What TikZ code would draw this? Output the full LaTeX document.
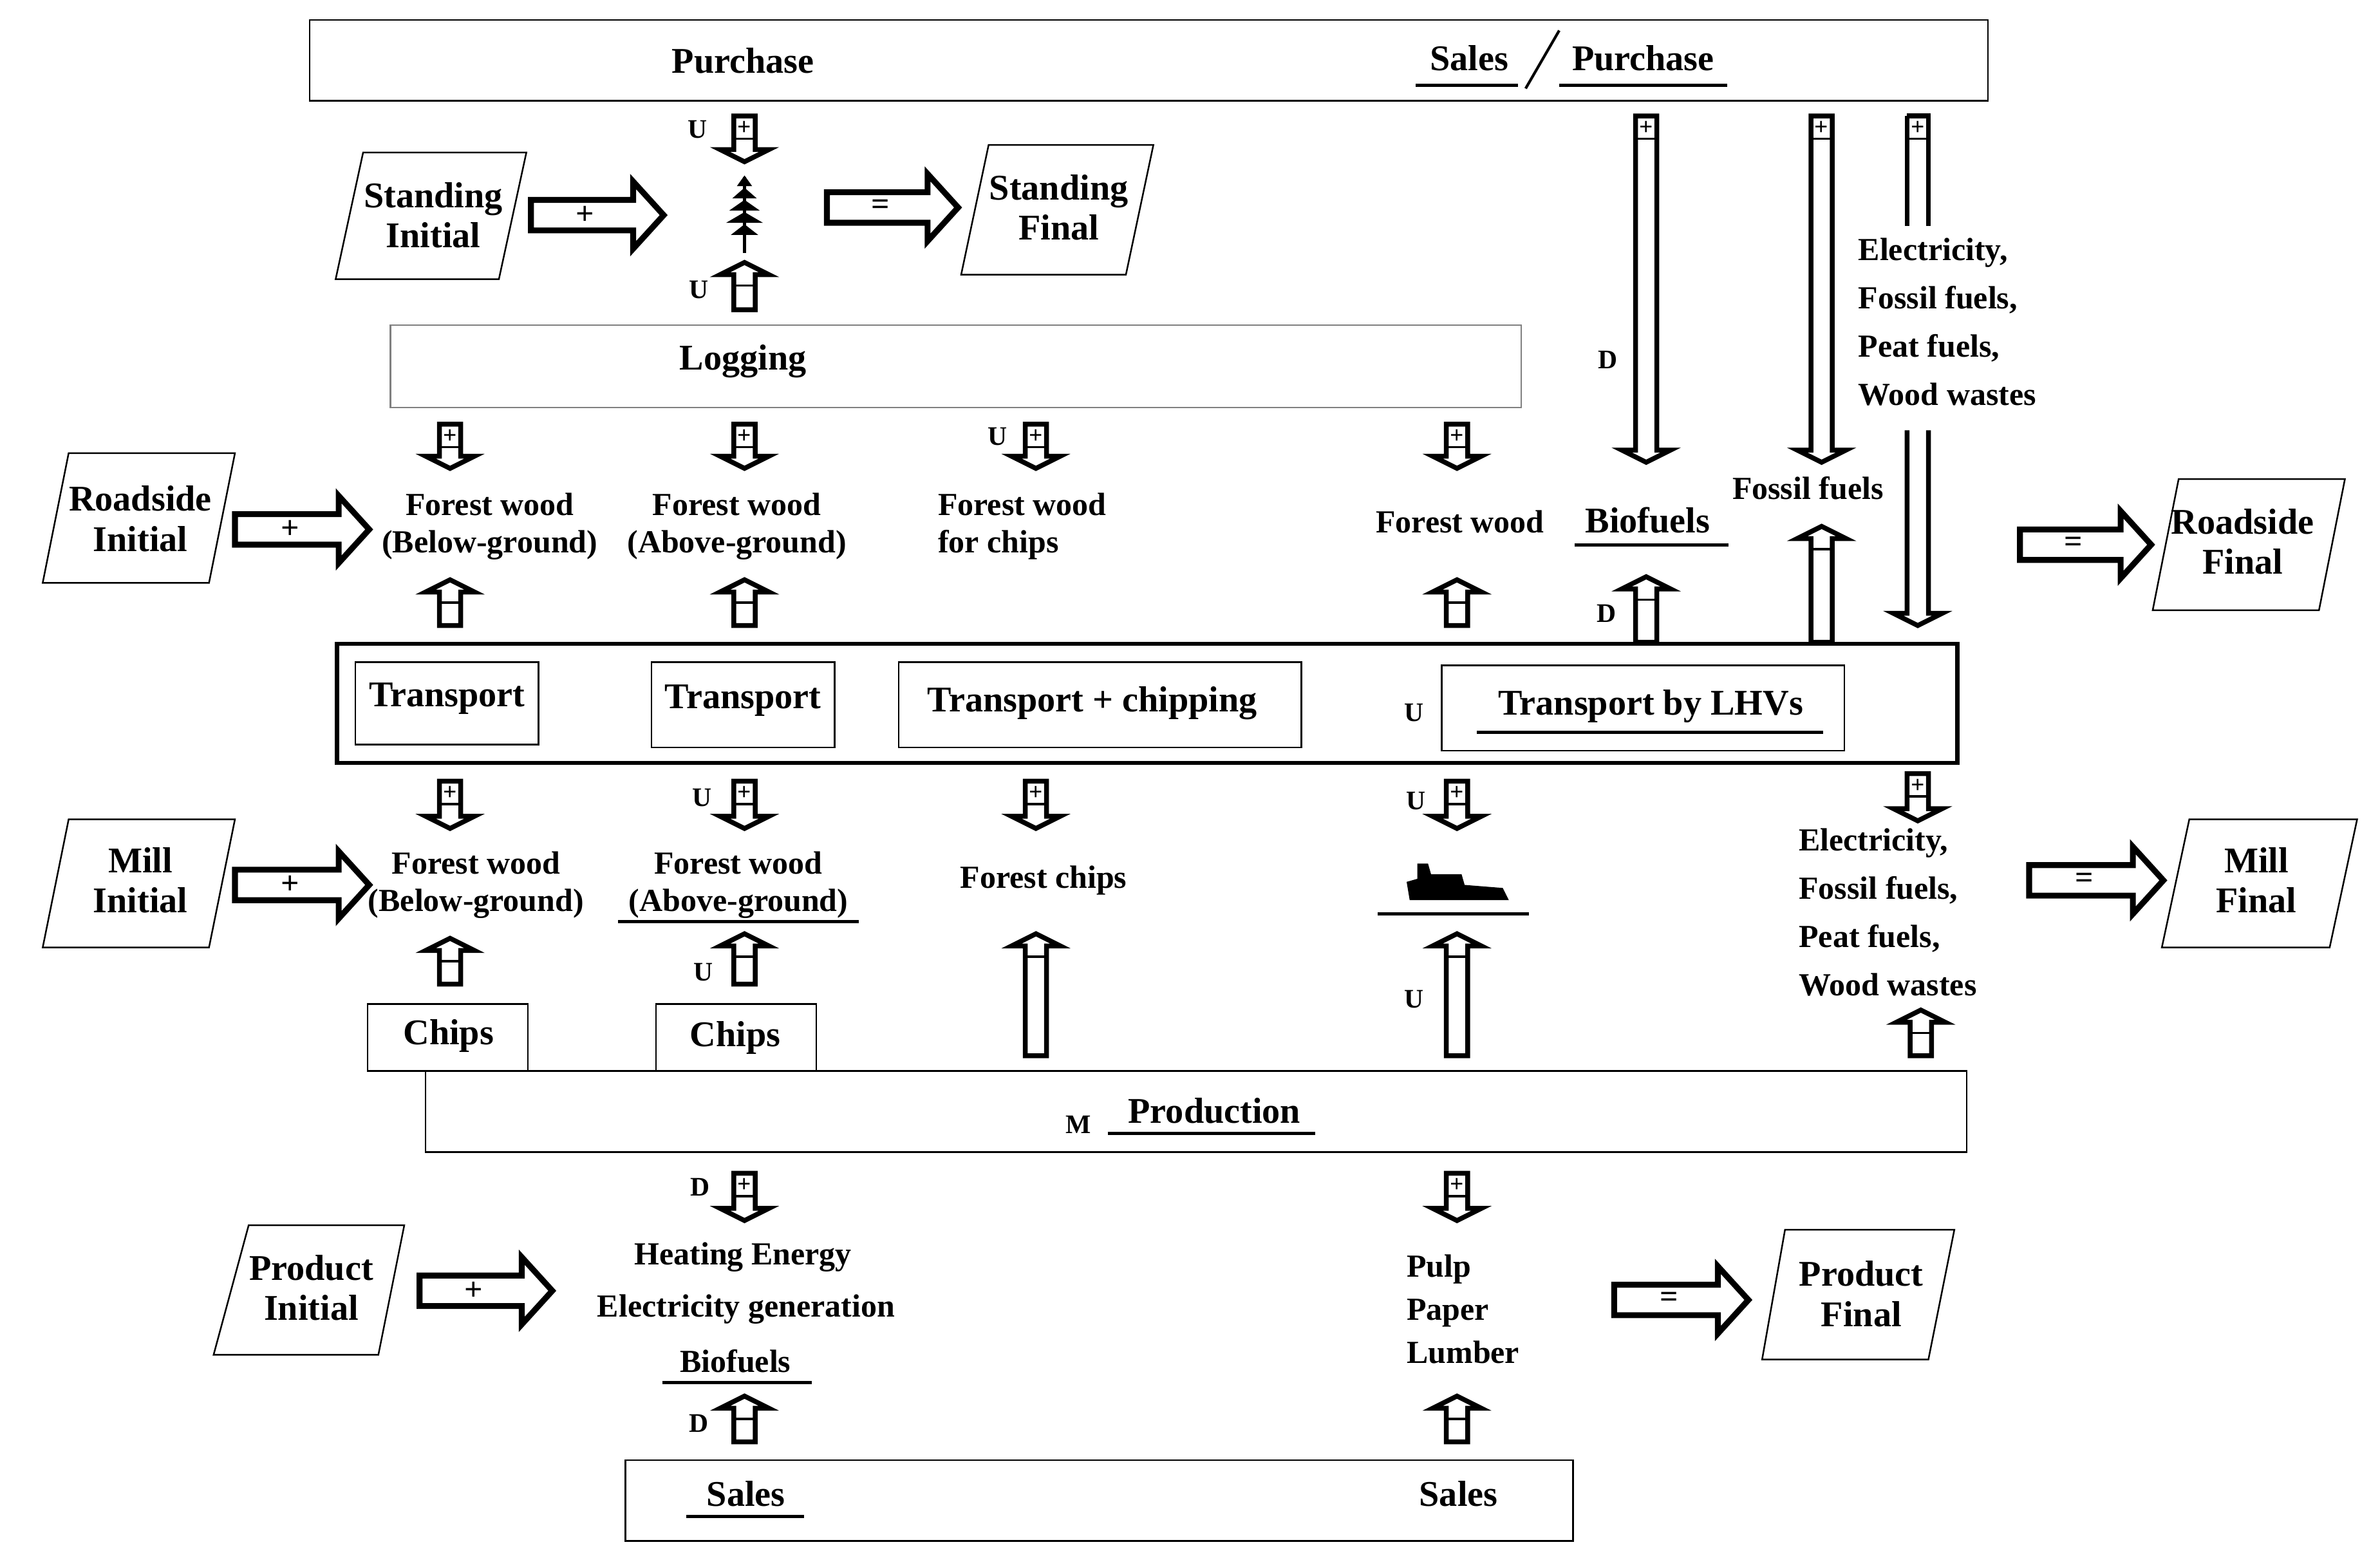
\documentclass[tikz,border=0pt]{standalone}
\usepackage{fontspec}
\setmainfont{Liberation Serif}
\usetikzlibrary{positioning}

% hollow block arrows, coordinates in picture units
\newcommand{\flowdown}[3]{%
    \draw[flow] ({#1-7},#2) -- ({#1+7},#2) -- ({#1+7},{#3-8}) -- ({#1+16},{#3-8}) -- (#1,#3) -- ({#1-16},{#3-8}) -- ({#1-7},{#3-8}) -- cycle;
    \draw[thick] ({#1-7},{#2+15}) -- ({#1+7},{#2+15});
    \node[sign] at (#1,{#2+8}) {+};}
\newcommand{\flowup}[3]{%
    \draw[flow] ({#1-7},#2) -- ({#1+7},#2) -- ({#1+7},{#3+8}) -- ({#1+16},{#3+8}) -- (#1,#3) -- ({#1-16},{#3+8}) -- ({#1-7},{#3+8}) -- cycle;
    \draw[thick] ({#1-7},{#3+15}) -- ({#1+7},{#3+15});}
\newcommand{\flowright}[4]{%
    \draw[bigflow] (#1,{#3-10}) -- ({#2-20},{#3-10}) -- ({#2-20},{#3-22}) -- (#2,#3) -- ({#2-20},{#3+22}) -- ({#2-20},{#3+10}) -- (#1,{#3+10}) -- cycle;
    \node[sign, font=\bfseries\large] at ({(#1+#2)/2-8},#3) {#4};}

\begin{document}
\begin{tikzpicture}[
    x=0.02cm, y=-0.02cm,
    flow/.style={line width=1.8pt, fill=white, line join=miter},
    bigflow/.style={line width=2.2pt, fill=white, line join=miter},
    sign/.style={inner sep=0pt, font=\bfseries\small},
    box/.style={draw, line width=0.6pt},
    stock/.style={draw, line width=0.6pt},
    lbl/.style={font=\bfseries\fontsize{12}{14}\selectfont, inner sep=1pt, align=center},
    big/.style={font=\bfseries\fontsize{13.5}{15}\selectfont, inner sep=1pt, align=center},
    tag/.style={font=\bfseries\fontsize{10}{12}\selectfont, inner sep=0pt},
    uline/.style={line width=1.2pt},
    ]
    \useasboundingbox (0,0) rectangle (1560,1021);

    % purchase / sales frame
    \draw[box] (203,13) rectangle (1303,66);
    \node[big] (purchase) at (487,40) {Purchase};
    \node[big] (sales1) at (963,38) {Sales};
    \node[big] (purchase2) at (1077,38) {Purchase};
    \draw[uline] (928,56) -- (995,56);
    \draw[uline] (1022,56) -- (1132,56);
    \draw[line width=1pt] (1000,58) -- (1022,20);

    % standing stock
    \draw[stock] (238,100) -- (345,100) -- (327,183) -- (220,183) -- cycle;
    \node[big] (standI) at (284,141) {Standing\\Initial};
    \flowright{348}{435}{141}{+}
    \flowdown{488}{76}{106}
    \node[tag] (u1) at (457,85) {U};
    % tree
    \draw[line width=1.2pt] (488,116) -- (488,166);
    \foreach \yy/\ww in {122/5, 130/8, 138/10, 146/12, 154/9} {
        \fill (488,{\yy-7}) -- ({488+\ww},\yy) -- ({488-\ww},\yy) -- cycle;
    }
    \flowup{488}{203}{172}
    \node[tag] (u2) at (458,190) {U};
    \flowright{542}{628}{136}{=}
    \draw[stock] (648,95) -- (756,95) -- (738,180) -- (630,180) -- cycle;
    \node[big] (standF) at (694,136) {Standing\\Final};

    % logging
    \draw[box, gray] (256,213) rectangle (997,267);
    \node[big] (logging) at (487,237) {Logging};

    % roadside stock
    \draw[stock] (45,297) -- (154,297) -- (137,382) -- (28,382) -- cycle;
    \node[big] (roadI) at (92,340) {Roadside\\Initial};
    \flowright{154}{242}{347}{+}
    \draw[stock] (1428,314) -- (1537,314) -- (1520,400) -- (1411,400) -- cycle;
    \node[big] (roadF) at (1470,355) {Roadside\\Final};
    \flowright{1324}{1410}{357}{=}

    \flowdown{295}{278}{307}
    \flowdown{488}{278}{307}
    \flowdown{679}{278}{307}
    \node[tag] (u3) at (654,286) {U};
    \flowdown{955}{278}{307}
    \node[lbl] (fwB1) at (321,345) {Forest wood\\(Below-ground)};
    \node[lbl] (fwA1) at (483,345) {Forest wood\\(Above-ground)};
    \node[lbl, align=left] (fwC1) at (670,345) {Forest wood\\for chips};
    \node[lbl] (fw1) at (957,342) {Forest wood};
    \node[big] (bio1) at (1080,341) {Biofuels};
    \draw[uline] (1032,357) -- (1133,357);
    \node[lbl] (fossil1) at (1185,320) {Fossil fuels};
    \node[lbl, align=left, anchor=west] (energy1) at (1216,211) {Electricity,\\[4pt]Fossil fuels,\\[4pt]Peat fuels,\\[4pt]Wood wastes};

    % transport frame
    \draw[line width=1.6pt] (221,422) rectangle (1283,500);
    \draw[box] (233,434) rectangle (353,488);
    \node[big] (tr1) at (293,458) {Transport};
    \draw[box] (427,434) rectangle (547,490);
    \node[big] (tr2) at (487,459) {Transport};
    \draw[box] (589,434) rectangle (853,490);
    \node[big] (tr3) at (716,461) {Transport + chipping};
    \node[tag] (u4) at (927,467) {U};
    \draw[box] (945,436) rectangle (1209,492);
    \node[big] (tr4) at (1082,463) {Transport by LHVs};
    \draw[uline] (968,480) -- (1195,480);

    % long purchase flows
    \flowdown{1079}{76}{303}
    \node[tag] (d1) at (1054,236) {D};
    \flowdown{1194}{76}{303}
    \draw[flow] (1250,76) -- (1264,76) -- (1264,148);
    \draw[flow] (1250,76) -- (1250,148);
    \draw[thick] (1250,91) -- (1264,91);
    \node[sign] at (1257,84) {+};
    \draw[flow] (1250,282) -- (1250,402) -- (1241,402) -- (1257,410) -- (1273,402) -- (1264,402) -- (1264,282);

    \flowup{295}{410}{380}
    \flowup{488}{410}{380}
    \flowup{955}{410}{380}
    \flowup{1079}{421}{378}
    \node[tag] (d2) at (1053,402) {D};
    \flowup{1194}{421}{345}

    % mill stock
    \draw[stock] (45,537) -- (154,537) -- (137,621) -- (28,621) -- cycle;
    \node[big] (millI) at (92,577) {Mill\\Initial};
    \flowright{154}{242}{580}{+}
    \draw[stock] (1435,537) -- (1545,537) -- (1527,621) -- (1417,621) -- cycle;
    \node[big] (millF) at (1479,577) {Mill\\Final};
    \flowright{1330}{1418}{577}{=}

    \flowdown{295}{512}{543}
    \flowdown{488}{512}{543}
    \node[tag] (u5) at (460,523) {U};
    \flowdown{679}{512}{543}
    \flowdown{955}{512}{543}
    \node[tag] (u6) at (928,525) {U};
    \flowdown{1257}{507}{538}
    \node[lbl] (fwB2) at (312,580) {Forest wood\\(Below-ground)};
    \node[lbl] (fwA2) at (484,580) {Forest wood\\(Above-ground)};
    \draw[uline] (405,604) -- (563,604);
    \node[lbl] (chips1) at (684,577) {Forest chips};
    % ship
    \fill (924,590) -- (989,590) -- (985,582) -- (960,580) -- (958,573) -- (938,573) -- (936,566) -- (929,566) -- (929,576) -- (922,578) -- cycle;
    \draw[uline] (903,599) -- (1002,599);
    \node[lbl, align=left, anchor=west] (energy2) at (1177,598) {Electricity,\\[4pt]Fossil fuels,\\[4pt]Peat fuels,\\[4pt]Wood wastes};

    \flowup{295}{645}{615}
    \flowup{488}{645}{612}
    \node[tag] (u7) at (461,637) {U};
    \flowup{679}{692}{612}
    \flowup{955}{692}{612}
    \node[tag] (u8) at (927,655) {U};
    \flowup{1259}{692}{662}
    \draw[box] (241,658) rectangle (346,702);
    \node[big] (chipsA) at (294,679) {Chips};
    \draw[box] (430,658) rectangle (535,702);
    \node[big] (chipsB) at (482,680) {Chips};

    % production
    \draw[box] (279,702) rectangle (1289,755);
    \node[tag] (m1) at (707,737) {M};
    \node[big] (prod) at (796,728) {Production};
    \draw[uline] (726,743) -- (862,743);

    % product stock
    \draw[stock] (163,803) -- (265,803) -- (248,888) -- (140,888) -- cycle;
    \node[big] (prodI) at (204,844) {Product\\Initial};
    \flowright{275}{362}{846}{+}
    \draw[stock] (1170,806) -- (1281,806) -- (1264,891) -- (1155,891) -- cycle;
    \node[big] (prodF) at (1220,848) {Product\\Final};
    \flowright{1058}{1146}{852}{=}

    \flowdown{488}{769}{800}
    \node[tag] (d3) at (459,778) {D};
    \flowdown{955}{769}{800}
    \node[lbl] (heat) at (487,824) {Heating Energy};
    \node[lbl] (elec) at (489,858) {Electricity generation};
    \node[lbl] (bio2) at (482,892) {Biofuels};
    \draw[uline] (434,906) -- (532,906);
    \node[lbl, align=left, anchor=west] (ppl) at (920,858) {Pulp\\[2pt]Paper\\[2pt]Lumber};

    \flowup{488}{945}{915}
    \node[tag] (d4) at (458,933) {D};
    \flowup{955}{945}{915}

    % sales
    \draw[box] (410,957) rectangle (1031,1010);
    \node[big] (sales2) at (489,979) {Sales};
    \draw[uline] (450,994) -- (527,994);
    \node[big] (sales3) at (956,979) {Sales};
\end{tikzpicture}
\end{document}
